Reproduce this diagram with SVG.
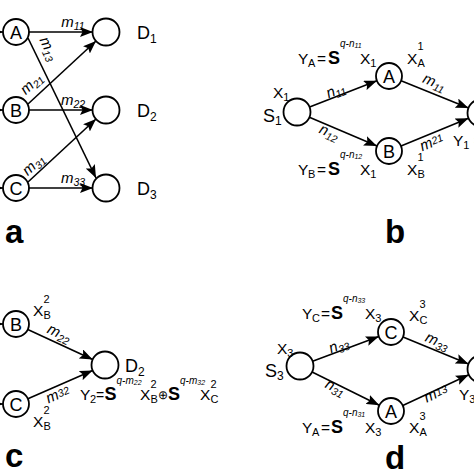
<svg xmlns="http://www.w3.org/2000/svg" width="474" height="474" viewBox="0 0 474 474">
<style>
circle{fill:#fff;stroke:#000;stroke-width:1.8}
text{font-family:"Liberation Sans",Arial,sans-serif;fill:#000}
.n{font-size:18px;text-anchor:middle}
.t{font-size:15.5px}
.s{font-size:11px}
.big{font-size:18px}
.sb{font-size:18px;font-weight:bold}
.sup{font-size:10px;font-style:italic}
.e{font-size:15px;font-style:italic;text-anchor:middle}
.es{font-size:10.5px}
.p{font-size:33px;font-weight:bold}
.c path{fill:none;stroke:#000;stroke-width:1.6;marker-end:url(#ah)}
</style>
<defs>
<marker id="ah" markerUnits="userSpaceOnUse" markerWidth="14" markerHeight="10" refX="13" refY="5" orient="auto">
<path d="M0,0 L13,5 L0,10 L2.5,5 z" fill="#000"/>
</marker>
</defs>
<rect width="474" height="474" fill="#fff"/>

<!-- connectors -->
<g id="connectors" class="c">
<!-- panel a -->
<path d="M-20,32 L3,32"/>
<path d="M-20,110 L3,110"/>
<path d="M-20,188 L3,188"/>
<path d="M29,32 L93,32"/>
<path d="M28,38 L96,178"/>
<path d="M28,104 L96,41"/>
<path d="M29,110 L93,110"/>
<path d="M28,182 L96,119"/>
<path d="M29,188 L93,188"/>
<!-- panel b -->
<path d="M309.6,107.1 L376.9,80.7"/>
<path d="M309.4,117.3 L377,145.9"/>
<path d="M401.1,80.8 L468.5,108"/>
<path d="M401,146 L468.5,118.2"/>
<!-- panel c -->
<path d="M-20,324 L3,324"/>
<path d="M-20,404 L3,404"/>
<path d="M27.8,329.4 L92.7,359.4"/>
<path d="M27.9,398.8 L92.6,370.4"/>
<!-- panel d -->
<path d="M312.6,361.3 L378.8,336.6"/>
<path d="M312.1,372 L379.3,405.2"/>
<path d="M403,336.9 L468.5,363.9"/>
<path d="M402.8,405.5 L468.8,374.7"/>
</g>

<!-- edge labels -->
<g id="edge-labels">
<text class="e" x="73" y="27">m<tspan class="es" dy="3">11</tspan></text>
<text class="e" transform="translate(48,49) rotate(64.6)" y="4">m<tspan class="es" dy="3">13</tspan></text>
<text class="e" transform="translate(32,84) rotate(-42.8)" y="4">m<tspan class="es" dy="3">21</tspan></text>
<text class="e" x="73" y="105">m<tspan class="es" dy="3">22</tspan></text>
<text class="e" transform="translate(34,165) rotate(-42.8)" y="4">m<tspan class="es" dy="3">31</tspan></text>
<text class="e" x="73" y="183">m<tspan class="es" dy="3">33</tspan></text>

<text class="e" transform="translate(336,91) rotate(-21.4)" y="4">n<tspan class="es" dy="3">11</tspan></text>
<text class="e" transform="translate(329,133) rotate(23)" y="4">n<tspan class="es" dy="3">12</tspan></text>
<text class="e" transform="translate(434,83) rotate(21.9)" y="4">m<tspan class="es" dy="3">11</tspan></text>
<text class="e" transform="translate(432,143) rotate(-22.4)" y="4">m<tspan class="es" dy="-2">21</tspan></text>

<text class="e" transform="translate(59,334) rotate(24.7)" y="4">m<tspan class="es" dy="3">22</tspan></text>
<text class="e" transform="translate(58,395) rotate(-23.7)" y="4">m<tspan class="es" dy="-1">32</tspan></text>

<text class="e" transform="translate(339,346) rotate(-20.5)" y="4">n<tspan class="es" dy="3">33</tspan></text>
<text class="e" transform="translate(335,388) rotate(26.3)" y="4">n<tspan class="es" dy="3">31</tspan></text>
<text class="e" transform="translate(437,342) rotate(22.3)" y="4">m<tspan class="es" dy="3">33</tspan></text>
<text class="e" transform="translate(436,394) rotate(-25)" y="4">m<tspan class="es" dy="-1">13</tspan></text>
</g>

<!-- panel a nodes -->
<g id="a-A"><circle cx="16" cy="32" r="13"/><text class="n" x="16" y="38.5">A</text></g>
<g id="a-B"><circle cx="16" cy="110" r="13"/><text class="n" x="16" y="116.5">B</text></g>
<g id="a-C"><circle cx="16" cy="188" r="13"/><text class="n" x="16" y="194.5">C</text></g>
<g id="a-D1"><circle cx="106" cy="32" r="13.5"/><text class="big" x="137" y="39">D<tspan font-size="12" dy="4">1</tspan></text></g>
<g id="a-D2"><circle cx="106" cy="110" r="13.5"/><text class="big" x="137" y="117">D<tspan font-size="12" dy="4">2</tspan></text></g>
<g id="a-D3"><circle cx="106" cy="188" r="13.5"/><text class="big" x="137" y="195">D<tspan font-size="12" dy="4">3</tspan></text></g>
<text class="p" x="5" y="243">a</text>

<!-- panel b nodes -->
<g id="b-S1"><circle cx="297" cy="112" r="13.5"/>
<text class="big" x="263" y="122">S<tspan font-size="12" dy="3">1</tspan></text>
<text class="t" x="273" y="98">X<tspan class="s" dy="3">1</tspan></text></g>
<g id="b-A"><circle cx="389" cy="76" r="13"/><text class="n" x="389" y="82.5">A</text>
<text class="t" x="407" y="64">X</text><text class="s" x="417.5" y="50">1</text><text class="s" x="417.5" y="67">A</text>
<text class="t" x="298" y="64">Y</text><text class="s" x="308" y="67">A</text><text class="t" x="317" y="64">=</text>
<text class="sb" x="328" y="64">S</text><text class="sup" x="340" y="47">q-n<tspan font-size="7" dy="1">11</tspan></text>
<text class="t" x="360" y="64">X<tspan class="s" dy="3">1</tspan></text></g>
<g id="b-B"><circle cx="389" cy="151" r="13"/><text class="n" x="389" y="157.5">B</text>
<text class="t" x="407" y="175">X</text><text class="s" x="417.5" y="161">1</text><text class="s" x="417.5" y="178">B</text>
<text class="t" x="298" y="175">Y</text><text class="s" x="308" y="178">B</text><text class="t" x="317" y="175">=</text>
<text class="sb" x="328" y="175">S</text><text class="sup" x="340" y="158">q-n<tspan font-size="7" dy="1">12</tspan></text>
<text class="t" x="360" y="175">X<tspan class="s" dy="3">1</tspan></text></g>
<g id="b-Y1"><circle cx="481" cy="113" r="13.5"/>
<text class="t" x="453" y="146">Y<tspan class="s" dy="3">1</tspan><tspan dy="-3"> =</tspan></text></g>
<text class="p" x="385" y="243">b</text>

<!-- panel c nodes -->
<g id="c-B"><circle cx="16" cy="324" r="13"/><text class="n" x="16" y="330.5">B</text>
<text class="t" x="33" y="316">X</text><text class="s" x="43.5" y="303">2</text><text class="s" x="43.5" y="319">B</text></g>
<g id="c-C"><circle cx="16" cy="404" r="13"/><text class="n" x="16" y="410.5">C</text>
<text class="t" x="33" y="427">X</text><text class="s" x="43.5" y="414">2</text><text class="s" x="43.5" y="430">B</text></g>
<g id="c-D2"><circle cx="105" cy="365" r="13.5"/>
<text class="big" x="125" y="372">D<tspan font-size="12" dy="4">2</tspan></text>
<text class="t" x="80" y="400">Y</text><text class="s" x="90" y="403">2</text><text x="96" y="400" font-size="14">=</text>
<text class="sb" x="104.5" y="400">S</text><text class="sup" x="116.5" y="384">q-m<tspan font-size="7" dy="1">22</tspan></text>
<text class="t" x="140" y="400">X</text><text class="s" x="150.5" y="388">2</text><text class="s" x="150.5" y="403">B</text>
<text x="157.5" y="399" font-size="12">⊕</text>
<text class="sb" x="168" y="400">S</text><text class="sup" x="180" y="384">q-m<tspan font-size="7" dy="1">32</tspan></text>
<text class="t" x="200" y="400">X</text><text class="s" x="210.5" y="388">2</text><text class="s" x="210.5" y="403">C</text></g>
<text class="p" x="5" y="467">c</text>

<!-- panel d nodes -->
<g id="d-S3"><circle cx="300" cy="366" r="13.5"/>
<text class="big" x="265" y="377">S<tspan font-size="12" dy="3">3</tspan></text>
<text class="t" x="277" y="354">X<tspan class="s" dy="3">3</tspan></text></g>
<g id="d-C"><circle cx="391" cy="332" r="13"/><text class="n" x="391" y="338.5">C</text>
<text class="t" x="409" y="321">X</text><text class="s" x="419.5" y="308">3</text><text class="s" x="419.5" y="324">C</text>
<text class="t" x="302" y="319">Y</text><text class="s" x="312" y="322">C</text><text class="t" x="321" y="319">=</text>
<text class="sb" x="331" y="319">S</text><text class="sup" x="343" y="302">q-n<tspan font-size="7" dy="1">33</tspan></text>
<text class="t" x="365" y="319">X<tspan class="s" dy="3">3</tspan></text></g>
<g id="d-A"><circle cx="391" cy="411" r="13"/><text class="n" x="391" y="417.5">A</text>
<text class="t" x="409" y="433">X</text><text class="s" x="419.5" y="420">3</text><text class="s" x="419.5" y="436">A</text>
<text class="t" x="302" y="433">Y</text><text class="s" x="312" y="436">A</text><text class="t" x="321" y="433">=</text>
<text class="sb" x="331" y="433">S</text><text class="sup" x="343" y="416">q-n<tspan font-size="7" dy="1">31</tspan></text>
<text class="t" x="365" y="433">X<tspan class="s" dy="3">3</tspan></text></g>
<g id="d-Y3"><circle cx="481" cy="369" r="13.5"/>
<text class="t" x="459" y="400">Y<tspan class="s" dy="3">3</tspan></text></g>
<text class="p" x="385" y="469">d</text>
</svg>
